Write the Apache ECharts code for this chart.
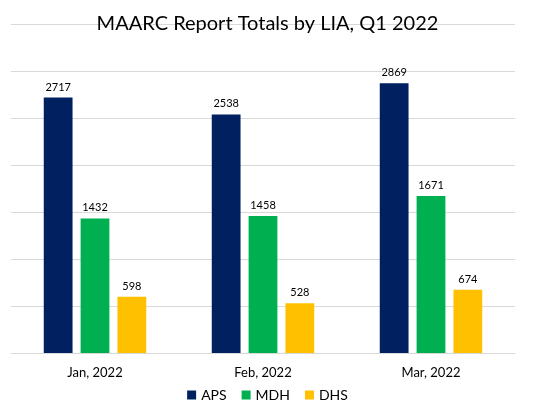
<!DOCTYPE html>
<html>
<head>
<meta charset="utf-8">
<script src="https://cdn.jsdelivr.net/npm/echarts@6/dist/echarts.min.js"></script>
<style>html,body{margin:0;padding:0;background:#fff;}</style>
</head>
<body>
<div id="main" style="width: 535px;height:413px;"></div>
<script type="text/javascript">
    // 数据
    var months = ['Jan, 2022', 'Feb, 2022', 'Mar, 2022'];
    var aps = [2717, 2538, 2869];
    var mdh = [1432, 1458, 1671];
    var dhs = [598, 528, 674];

    var myChart = echarts.init(document.getElementById('main'));
    var font = 'Lato';

    function bar(name, data, color) {
        return {
            name: name,
            type: 'bar',
            data: data,
            barGap: '28%',
            barCategoryGap: '39%',
            itemStyle: {color: color},
            label: {
                show: true,
                position: 'top',
                distance: 5,
                color: '#000',
                fontSize: 11,
                fontFamily: font
            }
        };
    }

    var option = {
        animation: false,
        title: {
            text: 'MAARC Report Totals by LIA, Q1 2022',
            left: 'center',
            top: 9,
            z: 10,
            textStyle: {
                fontFamily: font, fontWeight: 'normal', fontSize: 20, color: '#000',
                backgroundColor: '#fff', padding: [0, 3]
            }
        },
        legend: {
            bottom: 6,
            left: 'center',
            itemWidth: 9,
            itemHeight: 9,
            itemGap: 15,
            icon: 'rect',
            textStyle: {fontFamily: font, fontSize: 14, color: '#000'},
            data: ['APS', 'MDH', 'DHS']
        },
        grid: {left: 11, right: 20, top: 24, bottom: 60, containLabel: false},
        xAxis: {
            type: 'category',
            data: months,
            axisTick: {show: false},
            axisLine: {lineStyle: {color: '#d9d9d9'}},
            axisLabel: {fontFamily: font, fontSize: 13, color: '#000', margin: 13}
        },
        yAxis: {
            type: 'value',
            min: 0,
            max: 3500,
            interval: 500,
            position: 'right',
            axisLabel: {show: false},
            axisLine: {show: false},
            axisTick: {show: false},
            splitLine: {show: true, lineStyle: {color: '#d9d9d9', width: 1}}
        },
        series: [
            bar('APS', aps, '#002060'),
            bar('MDH', mdh, '#00B050'),
            bar('DHS', dhs, '#FFC000')
        ]
    };
    myChart.setOption(option);
</script>
</body>
</html>
